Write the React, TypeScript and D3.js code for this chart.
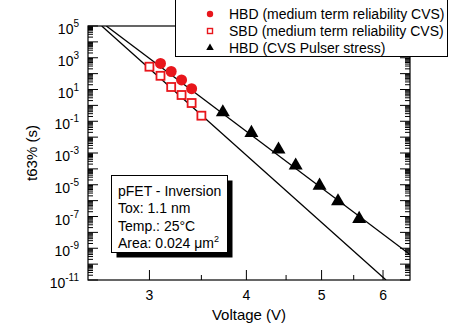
import React from 'react';
import * as d3 from 'd3';

// ---- data ----
const hbdMediumV = [3.1, 3.2, 3.3, 3.4];
const hbdMediumT = [436, 136, 40, 11.2];
const sbdMediumV = [3.0, 3.1, 3.2, 3.3, 3.4, 3.5];
const sbdMediumT = [273, 73, 14.4, 4.5, 1.41, 0.224];
const hbdPulserV = [3.73, 4.06, 4.4, 4.63, 4.97, 5.25, 5.59];
const hbdPulserT = [0.4, 0.0201, 0.00179, 1.75e-4, 9.6e-6, 9.9e-7, 7.7e-8];

// power-law fit lines (end points)
const hbdFitV = [2.64, 6.5];
const hbdFitT = [1e5, 3.98e-10];
const sbdFitV = [2.604, 6.053];
const sbdFitT = [1e5, 1e-11];

const xMajorTicks = [3, 4, 5, 6];
const xMinorTicks = [3.5, 4.5, 5.5];
const yLabelExponents = [5, 3, 1, -1, -3, -5, -7, -9, -11];

const legendLabels = [
  'HBD (medium term reliability CVS)',
  'SBD (medium term reliability CVS)',
  'HBD (CVS Pulser stress)',
];
const infoLines = ['pFET - Inversion', 'Tox: 1.1 nm', 'Temp.: 25°C'];

const RED = '#e8161c';
const FONT = 'Liberation Sans, Arial, Helvetica, sans-serif';

export default function App() {
  const W = 474, H = 334;
  const left = 88, right = 410, top = 26, bottom = 280;
  const x = d3.scaleLog().domain([2.5, 6.5]).range([left, right]);
  const y = d3.scaleLog().domain([1e-11, 1e5]).range([bottom, top]);

  const line = d3.line<[number, number]>().x(d => x(d[0])).y(d => y(d[1]));
  const hbdFit = line(hbdFitV.map((v, i) => [v, hbdFitT[i]] as [number, number]));
  const sbdFit = line(sbdFitV.map((v, i) => [v, sbdFitT[i]] as [number, number]));

  const yMajor: number[] = [];
  const yMinor: number[] = [];
  for (let e = -11; e <= 5; e++) {
    yMajor.push(Math.pow(10, e));
    if (e < 5) for (let m = 2; m <= 9; m++) yMinor.push(m * Math.pow(10, e));
  }

  const tri = (cx: number, cy: number, s: number) => {
    const h = s * 0.866;
    return `M${cx},${cy - h * 0.62}L${cx + s / 2},${cy + h * 0.38}L${cx - s / 2},${cy + h * 0.38}Z`;
  };

  const legendRows = [19, 36, 52.5];

  return (
    <svg width={W} height={H} style={{ position: 'absolute', left: 0, top: 0, background: '#fff' }}
      fontFamily={FONT}>
      <defs>
        <clipPath id="plotclip">
          <rect x={left} y={top} width={right - left} height={bottom - top} />
        </clipPath>
      </defs>
      <rect x={0} y={0} width={W} height={H} fill="#fff" />

      {/* left & right axis ticks */}
      {yMajor.map((t, i) => (
        <g key={'ym' + i}>
          <line x1={left} x2={left + 10} y1={y(t)} y2={y(t)} stroke="#000" strokeWidth={1} />
          <line x1={right} x2={right - 10} y1={y(t)} y2={y(t)} stroke="#000" strokeWidth={1} />
        </g>
      ))}
      {yMinor.map((t, i) => (
        <g key={'yn' + i}>
          <line x1={left} x2={left + 5} y1={y(t)} y2={y(t)} stroke="#000" strokeWidth={1} />
          <line x1={right} x2={right - 5} y1={y(t)} y2={y(t)} stroke="#000" strokeWidth={1} />
        </g>
      ))}
      {/* bottom axis ticks */}
      {xMajorTicks.map(v => (
        <line key={'xm' + v} x1={x(v)} x2={x(v)} y1={bottom} y2={bottom - 10} stroke="#000" />
      ))}
      {xMinorTicks.map(v => (
        <line key={'xn' + v} x1={x(v)} x2={x(v)} y1={bottom} y2={bottom - 5} stroke="#000" />
      ))}

      {/* fit lines */}
      <g clipPath="url(#plotclip)">
        <path d={hbdFit || ''} fill="none" stroke="#000" strokeWidth={1.3} />
        <path d={sbdFit || ''} fill="none" stroke="#000" strokeWidth={1.3} />
      </g>

      {/* frame */}
      <rect x={left} y={top} width={right - left} height={bottom - top} fill="none" stroke="#000" strokeWidth={1.2} />

      {/* markers */}
      {sbdMediumV.map((v, i) => (
        <rect key={'s' + i} x={x(v) - 4} y={y(sbdMediumT[i]) - 4} width={8} height={8}
          fill="#fff" stroke={RED} strokeWidth={1.8} />
      ))}
      {hbdMediumV.map((v, i) => (
        <circle key={'c' + i} cx={x(v)} cy={y(hbdMediumT[i])} r={5.5} fill={RED} />
      ))}
      {hbdPulserV.map((v, i) => (
        <path key={'t' + i} d={tri(x(v), y(hbdPulserT[i]), 14)} fill="#000" />
      ))}

      {/* y tick labels */}
      {yLabelExponents.map(e => (
        <text key={'yl' + e} x={79} y={y(Math.pow(10, e)) + 8} textAnchor="end" fontSize={14} fill="#000">
          10<tspan fontSize={10} dy={-7}>{e}</tspan>
        </text>
      ))}
      {/* x tick labels */}
      {xMajorTicks.map(v => (
        <text key={'xl' + v} x={x(v)} y={300} textAnchor="middle" fontSize={14} fill="#000">{v}</text>
      ))}

      {/* axis titles */}
      <text x={249} y={320} textAnchor="middle" fontSize={15} fill="#000">Voltage (V)</text>
      <text transform={`translate(37,${(top + bottom) / 2}) rotate(-90)`} textAnchor="middle" fontSize={15} fill="#000">
        t63% (s)
      </text>

      {/* info box */}
      <rect x={116.5} y={180.5} width={116} height={77} fill="#000" />
      <rect x={111.5} y={175.5} width={116} height={77} fill="#fff" stroke="#000" strokeWidth={1} />
      {infoLines.map((s, i) => (
        <text key={'il' + i} x={118} y={195.5 + i * 17.5} fontSize={14} fill="#000">{s}</text>
      ))}
      <text x={118} y={248} fontSize={14} fill="#000">
        Area: 0.024 μm<tspan fontSize={9} dy={-6}>2</tspan>
      </text>

      {/* legend */}
      <rect x={175.5} y={-5} width={272} height={61.5} fill="#fff" stroke="#000" strokeWidth={1} />
      <circle cx={210} cy={legendRows[0] - 5} r={3.2} fill={RED} />
      <rect x={207.5} y={legendRows[1] - 7.5} width={5} height={5} fill="#fff" stroke={RED} strokeWidth={1.4} />
      <path d={tri(210, legendRows[2] - 5, 7.5)} fill="#000" />
      {legendLabels.map((s, i) => (
        <text key={'lg' + i} x={229} y={legendRows[i]} fontSize={14} fill="#000">{s}</text>
      ))}
    </svg>
  );
}
